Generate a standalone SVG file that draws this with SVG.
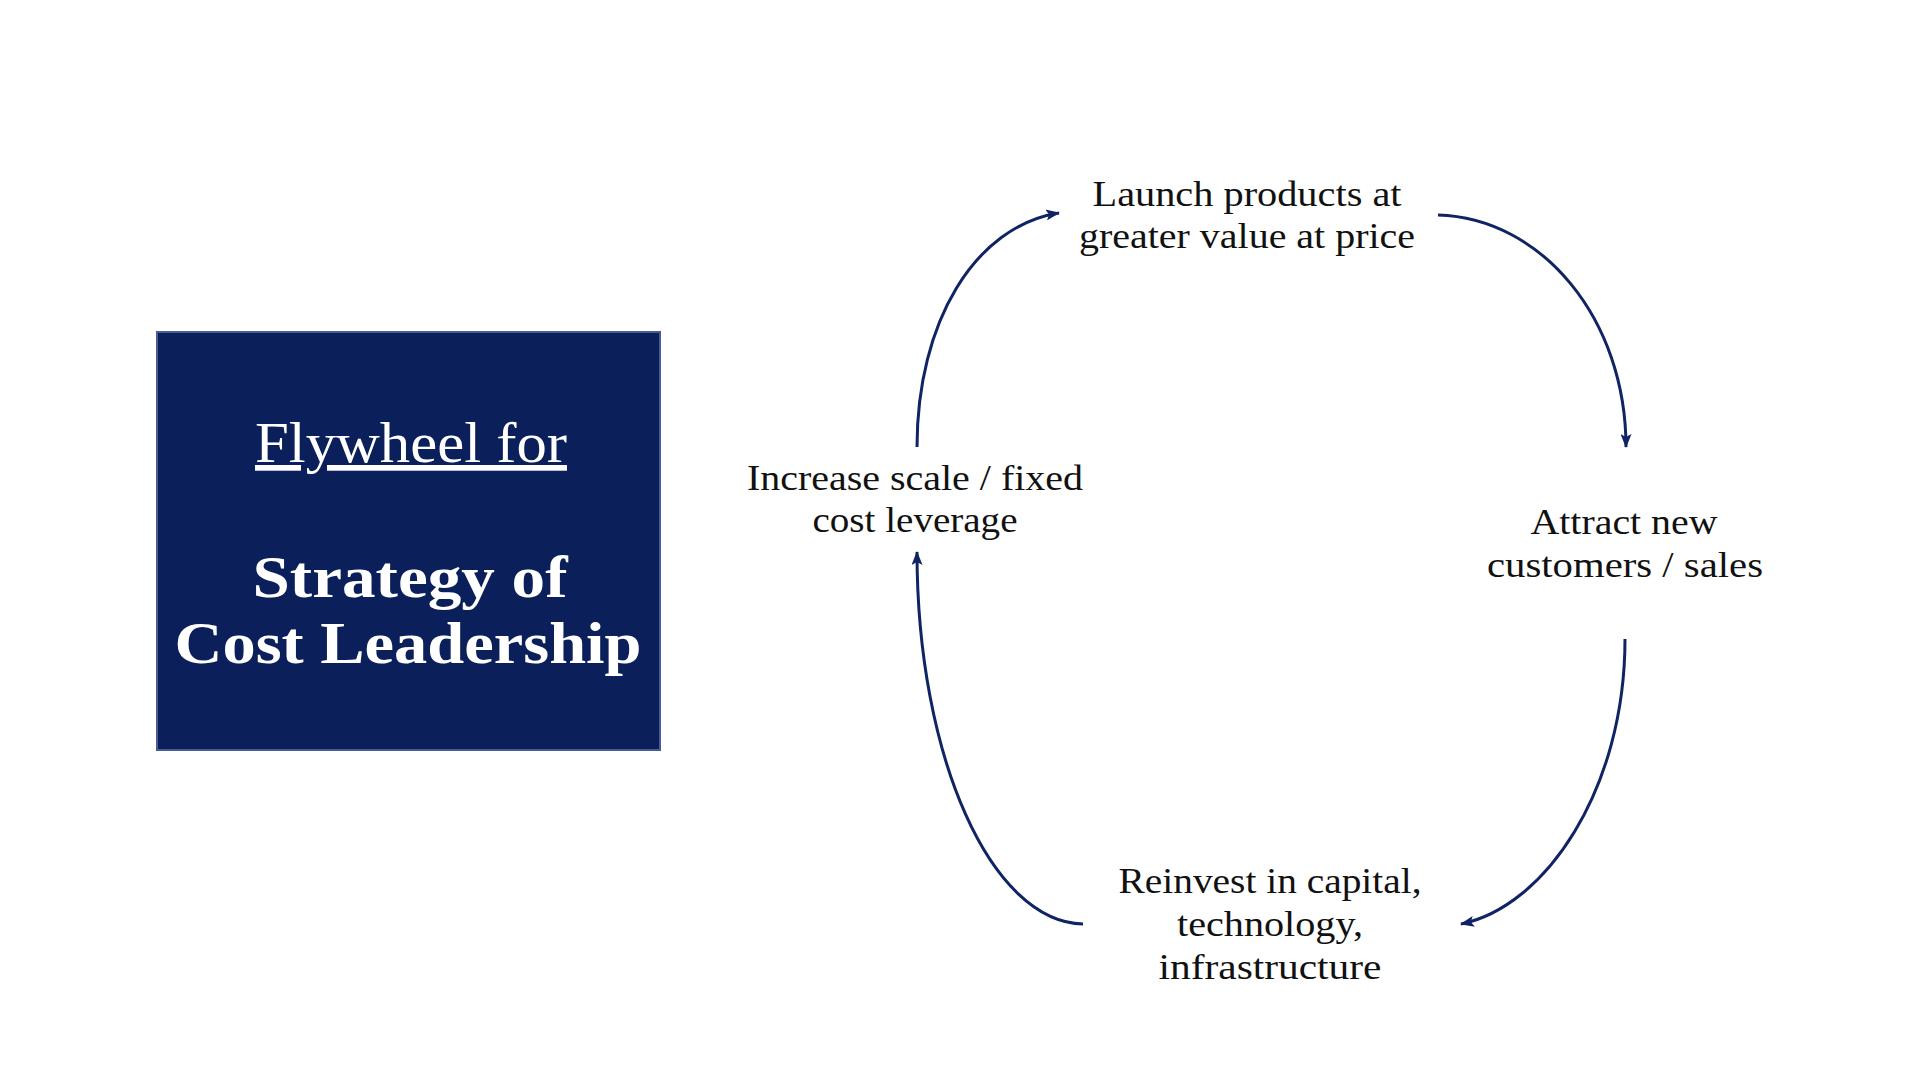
<svg xmlns="http://www.w3.org/2000/svg" width="1932" height="1083" viewBox="0 0 1932 1083">
  <style>
    .lbl { font-family: "Liberation Serif", "Times New Roman", serif; font-size: 35px; fill: #111111; text-anchor: middle; }
    .ttl { font-family: "Liberation Serif", "Times New Roman", serif; fill: #ffffff; text-anchor: middle; }
    .conn { fill: none; stroke: #102464; stroke-width: 3; }
  </style>
  <defs>
    <marker id="arrow" viewBox="0 0 14 11" refX="13" refY="5.5" markerWidth="14" markerHeight="11" markerUnits="userSpaceOnUse" orient="auto">
      <path d="M0,0 L14,5.5 L0,11 L3,5.5 Z" fill="#102464"/>
    </marker>
  </defs>
  <rect x="0" y="0" width="1932" height="1083" fill="#ffffff"/>

  <g id="title-box">
    <rect x="157" y="332" width="503" height="418" fill="#0B1F5B" stroke="#4A5C95" stroke-width="2"/>
    <text class="ttl" x="411" y="462" font-size="57" text-decoration="underline" textLength="312" lengthAdjust="spacingAndGlyphs">Flywheel for</text>
    <text class="ttl" x="410" y="597" font-size="59" font-weight="bold" textLength="315" lengthAdjust="spacingAndGlyphs">Strategy of</text>
    <text class="ttl" x="408" y="663" font-size="59" font-weight="bold" textLength="467" lengthAdjust="spacingAndGlyphs">Cost Leadership</text>
  </g>

  <g id="node-launch">
    <text class="lbl" x="1247" y="206" textLength="309" lengthAdjust="spacingAndGlyphs">Launch products at</text>
    <text class="lbl" x="1247" y="248" textLength="336" lengthAdjust="spacingAndGlyphs">greater value at price</text>
  </g>
  <g id="node-attract">
    <text class="lbl" x="1624" y="534" textLength="187" lengthAdjust="spacingAndGlyphs">Attract new</text>
    <text class="lbl" x="1625" y="577" textLength="276" lengthAdjust="spacingAndGlyphs">customers / sales</text>
  </g>
  <g id="node-reinvest">
    <text class="lbl" x="1270" y="893" textLength="303" lengthAdjust="spacingAndGlyphs">Reinvest in capital,</text>
    <text class="lbl" x="1270" y="936" textLength="186" lengthAdjust="spacingAndGlyphs">technology,</text>
    <text class="lbl" x="1270" y="979" textLength="223" lengthAdjust="spacingAndGlyphs">infrastructure</text>
  </g>
  <g id="node-scale">
    <text class="lbl" x="915" y="490" textLength="336" lengthAdjust="spacingAndGlyphs">Increase scale / fixed</text>
    <text class="lbl" x="915" y="532" textLength="205" lengthAdjust="spacingAndGlyphs">cost leverage</text>
  </g>

  <g id="connectors">
    <path class="conn" d="M917,447 C917,322 975,226 1059,213" marker-end="url(#arrow)"/>
    <path class="conn" d="M1438,215 C1542,218 1626,319 1626,447" marker-end="url(#arrow)"/>
    <path class="conn" d="M1625,639 C1625,790 1545,907 1461,924" marker-end="url(#arrow)"/>
    <path class="conn" d="M1083,924 C991,922 917,757 917,552" marker-end="url(#arrow)"/>
  </g>
</svg>
